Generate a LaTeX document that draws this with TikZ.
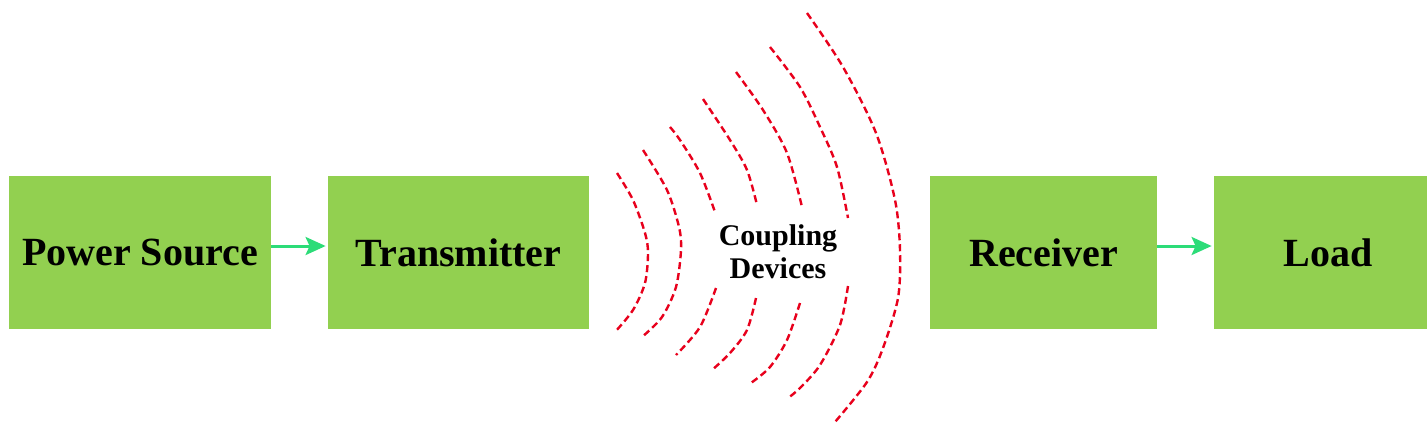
\documentclass[tikz,border=0pt]{standalone}
\usepackage{fontspec}
\setmainfont{Liberation Serif}
\usetikzlibrary{arrows.meta}
\definecolor{boxgreen}{RGB}{146,208,80}
\definecolor{arrowgreen}{RGB}{44,220,120}
\definecolor{wavered}{RGB}{232,0,28}
\tikzset{
  block/.style={fill=boxgreen, draw=none, inner sep=0pt, minimum height=76.5pt,
    font=\fontsize{20}{24}\selectfont\bfseries},
  flow/.style={draw=arrowgreen, line width=1.5pt, shorten >=1pt,
    -{Stealth[length=10pt,width=9pt,inset=2pt]}},
  wave/.style={draw=wavered, line width=1.2pt, dash pattern=on 3.5pt off 2pt}
}
\begin{document}
\begin{tikzpicture}[x=0.5pt,y=-0.5pt]
\clip (0,0) rectangle (1427,435);
\fill[white] (0,0) rectangle (1427,435);
\node[block, minimum width=131pt]   (ps)   at (140,252.5)   {Power Source};
\node[block, minimum width=130.5pt] (tx)   at (458.5,252.5) {Transmitter};
\node[block, minimum width=113.5pt] (rx)   at (1043.5,252.5){Receiver};
\node[block, minimum width=114pt]   (load) at (1328,252.5)  {Load};
\draw[flow] (ps.east |- 0,246) -- (tx.west |- 0,246);
\draw[flow] (rx.east |- 0,246) -- (load.west |- 0,246);
% coupling waves
\draw[wave] plot[smooth] coordinates {(617,173) (633,200) (645,233) (648,253) (645,283) (633,310) (615,332)};
\draw[wave] plot[smooth] coordinates {(643,150) (667,190) (679,227) (681,250) (676,287) (662,317) (642,337)};
\draw[wave] plot[smooth] coordinates {(670,127) (680,140) (700,173) (715,212)};
\draw[wave] plot[smooth] coordinates {(716,288) (700,327) (676,355)};
\draw[wave] plot[smooth] coordinates {(703,99) (730,140) (747,170) (757,205)};
\draw[wave] plot[smooth] coordinates {(756,298) (747,330) (730,353) (712,370)};
\draw[wave] plot[smooth] coordinates {(736,72) (763,110) (787,153) (802,207)};
\draw[wave] plot[smooth] coordinates {(800,303) (787,340) (770,367) (751,383)};
\draw[wave] plot[smooth] coordinates {(770,47) (800,87) (820,127) (837,167) (848,218)};
\draw[wave] plot[smooth] coordinates {(848,286) (840,325) (820,365) (800,388) (788,398)};
\draw[wave] plot[smooth] coordinates {(807,13) (843,67) (876,133) (895,200) (900,250) (898,298) (883,348) (867,382) (835,422)};
\node[align=center, inner sep=0pt, font=\fontsize{15}{16.5}\selectfont\bfseries] (cd) at (778,252) {Coupling\\Devices};
\end{tikzpicture}
\end{document}
